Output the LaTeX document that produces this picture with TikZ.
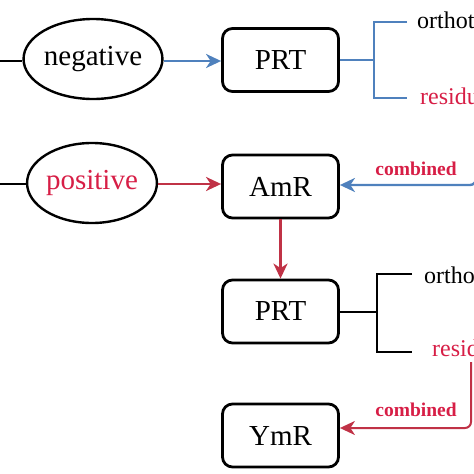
\documentclass[tikz,border=0pt]{standalone}
\usepackage{fontspec}
\setmainfont{Liberation Serif}
\usetikzlibrary{arrows.meta,shapes.geometric}
\definecolor{myblue}{RGB}{79,129,189}
\definecolor{arrred}{RGB}{192,50,70}
\definecolor{txtred}{RGB}{215,30,70}
\begin{document}
\begin{tikzpicture}[x=1pt,y=-1pt,
  oval/.style={draw=black,line width=2.4pt,ellipse,minimum width=123pt,minimum height=80pt,inner sep=0pt,font=\fontsize{29}{32}\selectfont},
  box/.style={draw=black,line width=2.8pt,rounded corners=10pt,minimum width=116pt,minimum height=63pt,inner sep=0pt,font=\fontsize{29}{32}\selectfont},
  lbl/.style={anchor=west,inner sep=0pt,font=\fontsize{24}{26}\selectfont},
  comb/.style={inner sep=0pt,text=txtred,font=\fontsize{19.5}{21}\selectfont\bfseries},
  bl/.style={draw=myblue,line width=2.4pt},
  rl/.style={draw=arrred,line width=2.4pt},
  kl/.style={draw=black,line width=2.6pt},
  tip/.style={-{Stealth[length=15pt,width=14pt,inset=4.5pt]}}
]
\useasboundingbox (0,0) rectangle (474,474);
\clip (0,0) rectangle (474,474);
% nodes
\node[oval] (neg) at (93,59) {negative};
\node[oval,text=txtred] (pos) at (92,183) {positive};
\node[box] (prta) at (280.5,60) {PRT};
\node[box] (amr) at (280.5,186.5) {AmR};
\node[box] (prtb) at (280.5,311.5) {PRT};
\node[box] (ymr) at (280.5,435.5) {YmR};
% left stubs
\coordinate (la) at (0,61);
\coordinate (lb) at (0,184);
\draw[kl] (la) -- (la -| neg.west);
\draw[kl] (lb) -- (lb -| pos.west);
% main arrows
\draw[bl,tip] (la -| neg.east) -- (la -| prta.west);
\draw[rl,tip] (lb -| pos.east) -- (lb -| amr.west);
\draw[rl,tip] (amr.south) -- (prtb.north);
% bracket 1 (blue)
\coordinate (ba) at (374,60);
\coordinate (bat) at (374,22);
\coordinate (bab) at (374,98);
\coordinate (bate) at (407,22);
\coordinate (babe) at (407,98);
\draw[bl] (ba -| prta.east) -- (ba);
\draw[bl] (bate) -- (bat) -- (bab) -- (babe);
\node[lbl] (orta) at (417,20) {orthot};
\node[lbl,text=txtred] (resa) at (420,96) {residu};
% bracket 2 (black)
\coordinate (bb) at (377,312);
\coordinate (bbt) at (377,274);
\coordinate (bbb) at (377,352);
\coordinate (bbte) at (412,274);
\coordinate (bbbe) at (412,352);
\draw[kl] (bb -| prtb.east) -- (bb);
\draw[kl] (bbte) -- (bbt) -- (bbb) -- (bbbe);
\node[lbl] (ortb) at (424,275) {ortho};
\node[lbl,text=txtred] (resb) at (432,348) {resid};
% combined arrows
\coordinate (ca) at (476,110);
\coordinate (cb) at (476,185);
\draw[bl,tip,rounded corners=6pt] (ca) -- (cb) -- (amr.east |- cb);
\node[comb] (comba) at (416,169) {combined};
\coordinate (cc) at (471,362);
\coordinate (cd) at (471,428);
\draw[rl,line width=2pt,tip,rounded corners=6pt] (cc) -- (cd) -- (ymr.east |- cd);
\node[comb] (combb) at (416,410) {combined};
\end{tikzpicture}
\end{document}
